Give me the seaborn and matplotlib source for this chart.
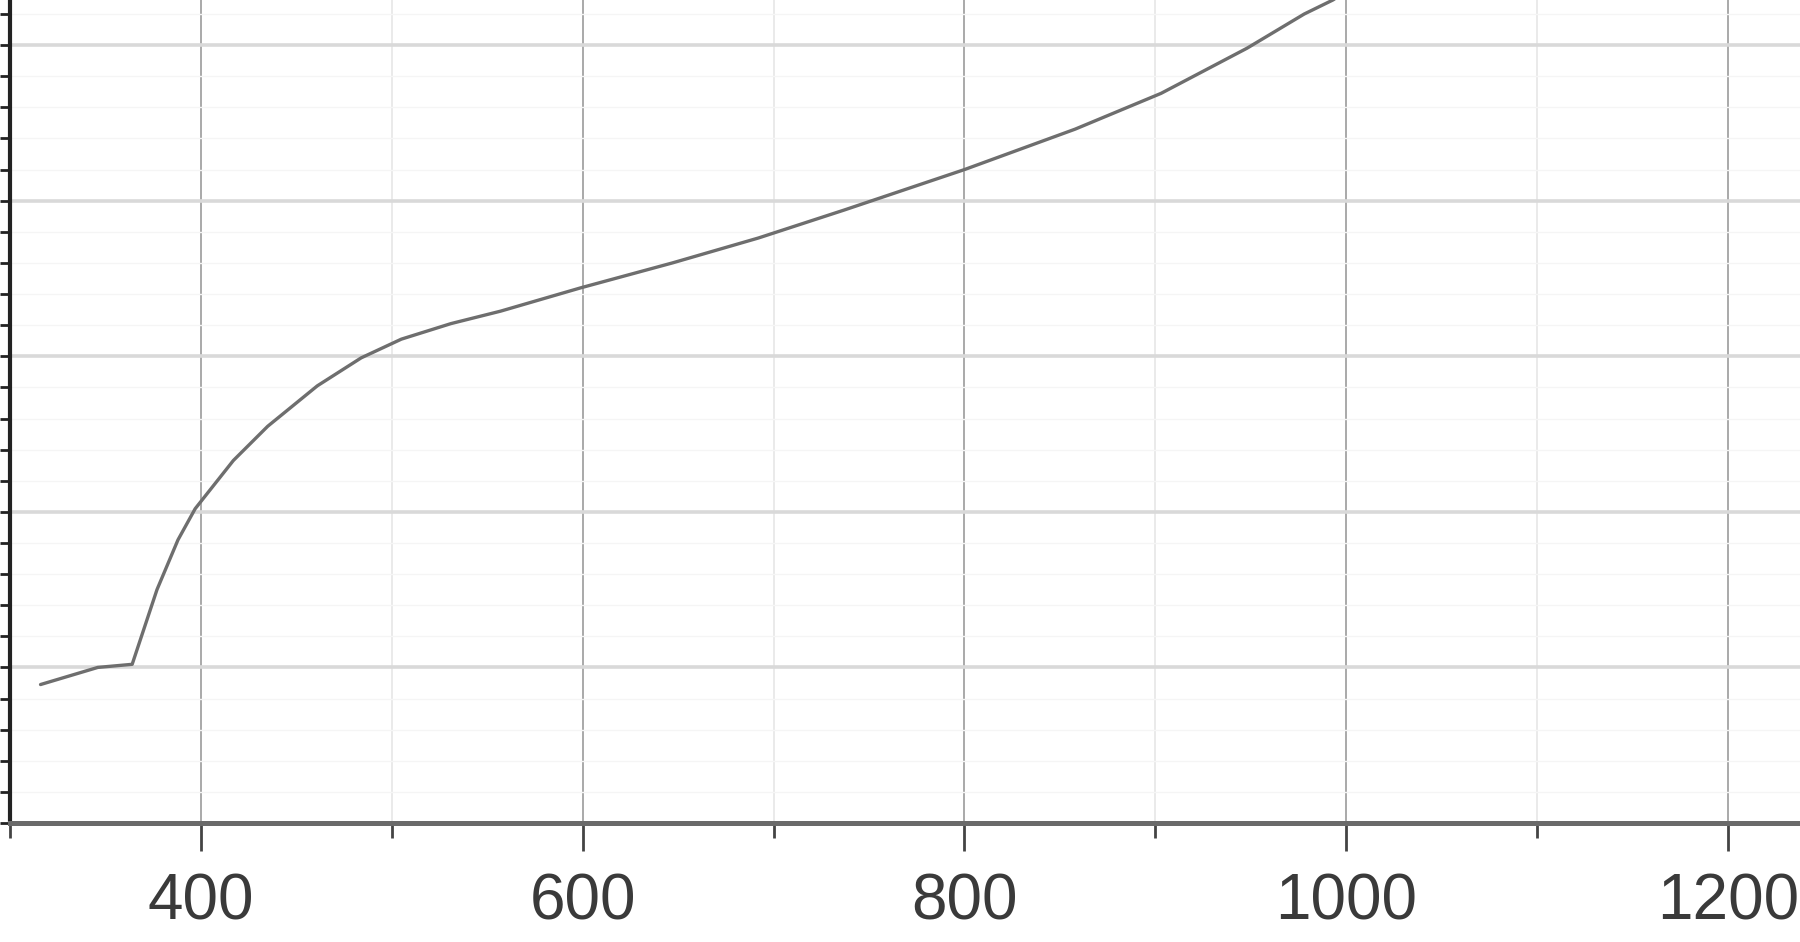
import seaborn as sns
import matplotlib.pyplot as plt
from matplotlib.ticker import MultipleLocator, NullFormatter
import pandas as pd

# Curve (x in axis units, y in grid units: one major gridline = 1)
wave_x = [316, 346, 364, 377, 388, 397, 417, 435, 461, 484, 505, 531, 557,
          599, 647, 692, 737, 800, 858, 903, 948, 978, 993, 1010]
wave_y = [0.89, 1.00, 1.02, 1.50, 1.82, 2.02, 2.33, 2.55, 2.81, 2.99, 3.11, 3.21, 3.29,
          3.44, 3.60, 3.76, 3.94, 4.20, 4.46, 4.69, 4.98, 5.20, 5.29, 5.42]

x_major = [400, 600, 800, 1000, 1200]

df = pd.DataFrame({'x': wave_x, 'y': wave_y})

sns.set_style('white')
plt.rcParams['font.family'] = ['Liberation Sans', 'DejaVu Sans']

fig = plt.figure(figsize=(18, 9.42), dpi=100)
ax = fig.add_axes([10 / 1800, 119 / 942, 1 - 10 / 1800, 1 - 119 / 942])

# grid lines first so the curve sits on top
ax.set_axisbelow(True)
sns.lineplot(data=df, x='x', y='y', ax=ax, color='#6e6e6e', linewidth=2.4, sort=False)

ax.set_xlim(300, 1237.7)
ax.set_ylim(0, 5.29)

ax.xaxis.set_minor_locator(MultipleLocator(100))
ax.yaxis.set_major_locator(MultipleLocator(1))
ax.yaxis.set_minor_locator(MultipleLocator(0.2))
ax.set_xticks(x_major)
ax.set_xticklabels([str(v) for v in x_major])
ax.yaxis.set_major_formatter(NullFormatter())

ax.grid(which='major', axis='y', color='#d9d9d9', linewidth=2.6)
ax.grid(which='minor', axis='y', color='#f5f5f5', linewidth=1.0)
ax.grid(which='major', axis='x', color='#a9a9a9', linewidth=1.4)
ax.grid(which='minor', axis='x', color='#e6e6e6', linewidth=1.2)

for side in ['top', 'right']:
    ax.spines[side].set_visible(False)
ax.spines['bottom'].set_color('#6a6a6a')
ax.spines['bottom'].set_linewidth(3.6)
ax.spines['left'].set_color('#222222')
ax.spines['left'].set_linewidth(3.0)

# the white style switches tick marks off, bring them back
ax.tick_params(axis='both', which='both', bottom=True, left=True)
ax.tick_params(axis='x', which='major', direction='out', length=20, width=2.0,
               color='#444444', labelsize=46, labelcolor='#3a3a3a', pad=16)
ax.tick_params(axis='x', which='minor', direction='out', length=11, width=2.0, color='#444444')
ax.tick_params(axis='y', which='both', direction='out', length=7, width=2.0, color='#222222')
ax.set_xlabel('')
ax.set_ylabel('')

fig.savefig('out.png', dpi=100)
